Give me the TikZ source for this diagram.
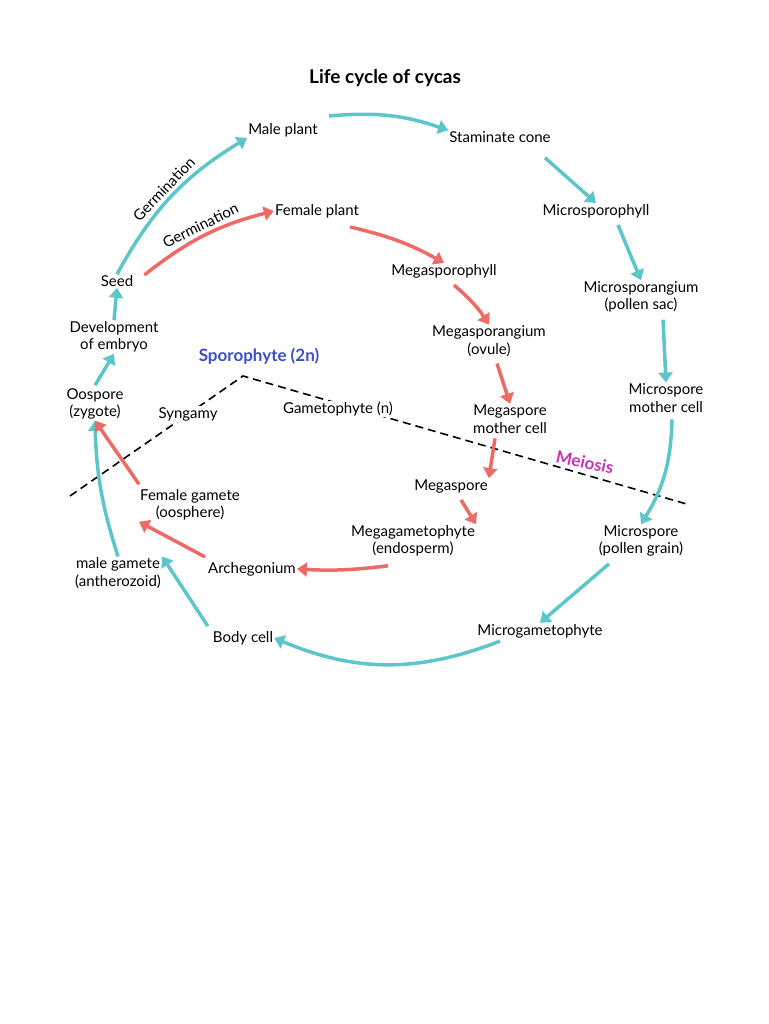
\documentclass[tikz,border=0pt]{standalone}
\usepackage{fontspec}
\setmainfont{Lato}
\usetikzlibrary{arrows.meta}
\definecolor{teal}{HTML}{5CC6CA}
\definecolor{salmon}{HTML}{EE6A64}
\definecolor{spblue}{HTML}{3A4FC9}
\definecolor{meimag}{HTML}{C832B4}
\begin{document}
\begin{tikzpicture}[x=1pt,y=-1pt,
  lbl/.style={font=\fontsize{15}{17.5}\selectfont,align=center,inner sep=1pt},
  tarr/.style={teal,line width=3.5pt,-{Triangle[length=10pt,width=14pt]}},
  rarr/.style={salmon,line width=3.5pt,-{Triangle[length=10pt,width=14pt]}}]
\useasboundingbox (0,0) rectangle (768,1024);
%dashed boundary
\draw[dashed,line width=1.6pt,dash pattern=on 8pt off 5pt] (70,496) -- (243,376) -- (690,505);
%title
\node[font=\fontsize{19}{21}\selectfont\bfseries] (title) at (385,78) {Life cycle of cycas};
%male side
\node[lbl] (male) at (283,130) {Male plant};
\node[lbl] (stam) at (500,137) {Staminate cone};
\node[lbl] (msph) at (596,211) {Microsporophyll};
\node[lbl] (msgm) at (641,297) {Microsporangium\\(pollen sac)};
\node[lbl] (mmc) at (666,398) {Microspore\\mother cell};
\node[lbl] (mspo) at (641,541) {Microspore\\(pollen grain)};
\node[lbl] (mgam) at (540,631) {Microgametophyte};
\node[lbl] (body) at (243,638) {Body cell};
\node[lbl] (anth) at (118,573) {male gamete\\(antherozoid)};
%female side
\node[lbl] (female) at (317,211) {Female plant};
\node[lbl] (fsph) at (444,271) {Megasporophyll};
\node[lbl] (fsgm) at (489,341) {Megasporangium\\(ovule)};
\node[lbl] (fmc) at (510,419) {Megaspore\\mother cell};
\node[lbl] (fspo) at (451,486) {Megaspore};
\node[lbl] (fgam) at (413,541) {Megagametophyte\\(endosperm)};
\node[lbl] (arch) at (252,569) {Archegonium};
\node[lbl] (oosph) at (190,505) {Female gamete\\(oosphere)};
%sporophyte
\node[lbl] (zyg) at (95,404) {Oospore\\(zygote)};
\node[lbl] (emb) at (114,337) {Development\\of embryo};
\node[lbl] (seed) at (117,281) {Seed};
\node[lbl,fill=white] (syn) at (188,414) {Syngamy};
\node[lbl,fill=white] (gph) at (338,409) {Gametophyte (n)};
\node[font=\fontsize{17}{19}\selectfont\bfseries,text=spblue] (sph) at (259,356) {Sporophyte (2n)};
\node[font=\fontsize{17}{19}\selectfont\bfseries,text=meimag,rotate=-12] (mei) at (585,462) {Meiosis};
%teal cycle
\draw[tarr] (male.east) ++(10,-14) coordinate (m1) to[bend left=12] (stam.north west);
\draw[tarr] (stam.south) ++(45,14) -- (msph.north);
\draw[tarr] (msph.south) ++(22,6) -- (msgm.north);
\draw[tarr] (msgm.south) ++(22,6) -- (mmc.north);
\draw[tarr] (mmc.south) ++(6,6) to[bend left=15] (mspo.north);
\draw[tarr] (mspo.south) ++(-32,6) -- (mgam.north);
\draw[tarr] (mgam.south) ++(-40,2) to[bend left=22] (body.east);
\draw[tarr] (body.north west) ++(-4,-4) -- (anth.north east);
\draw[tarr] (anth.north) to[bend left=8] (zyg.south);
\draw[tarr] (zyg.north) ++(0,-2) -- (emb.south);
\draw[tarr] (emb.north) -- (seed.south);
\draw[tarr] (seed.north) to[bend left=15] node[sloped,above,black,font=\fontsize{15}{17}\selectfont] {Germination} (male.south west);
%red cycle
\draw[rarr] (seed.east) ++(10,-6) to[bend left=12] node[sloped,above,black,font=\fontsize{15}{17}\selectfont] {Germination} (female.west);
\draw[rarr] (female.south east) ++(-10,8) to[bend left=8] (fsph.north);
\draw[rarr] (fsph.south) ++(10,6) to[bend left=8] (fsgm.north);
\draw[rarr] (fsgm.south) ++(8,6) -- (fmc.north);
\draw[rarr] (fmc.south) ++(-15,4) -- (fspo.north east);
\draw[rarr] (fspo.south) ++(10,6) -- (fgam.north east);
\draw[rarr] (fgam.south) ++(-25,8) to[bend left=5] (arch.east);
\draw[rarr] (arch.north west) ++(-2,-4) -- (oosph.south west);
\draw[rarr] (oosph.north west) ++(0,-4) -- (zyg.south);
\end{tikzpicture}
\end{document}
